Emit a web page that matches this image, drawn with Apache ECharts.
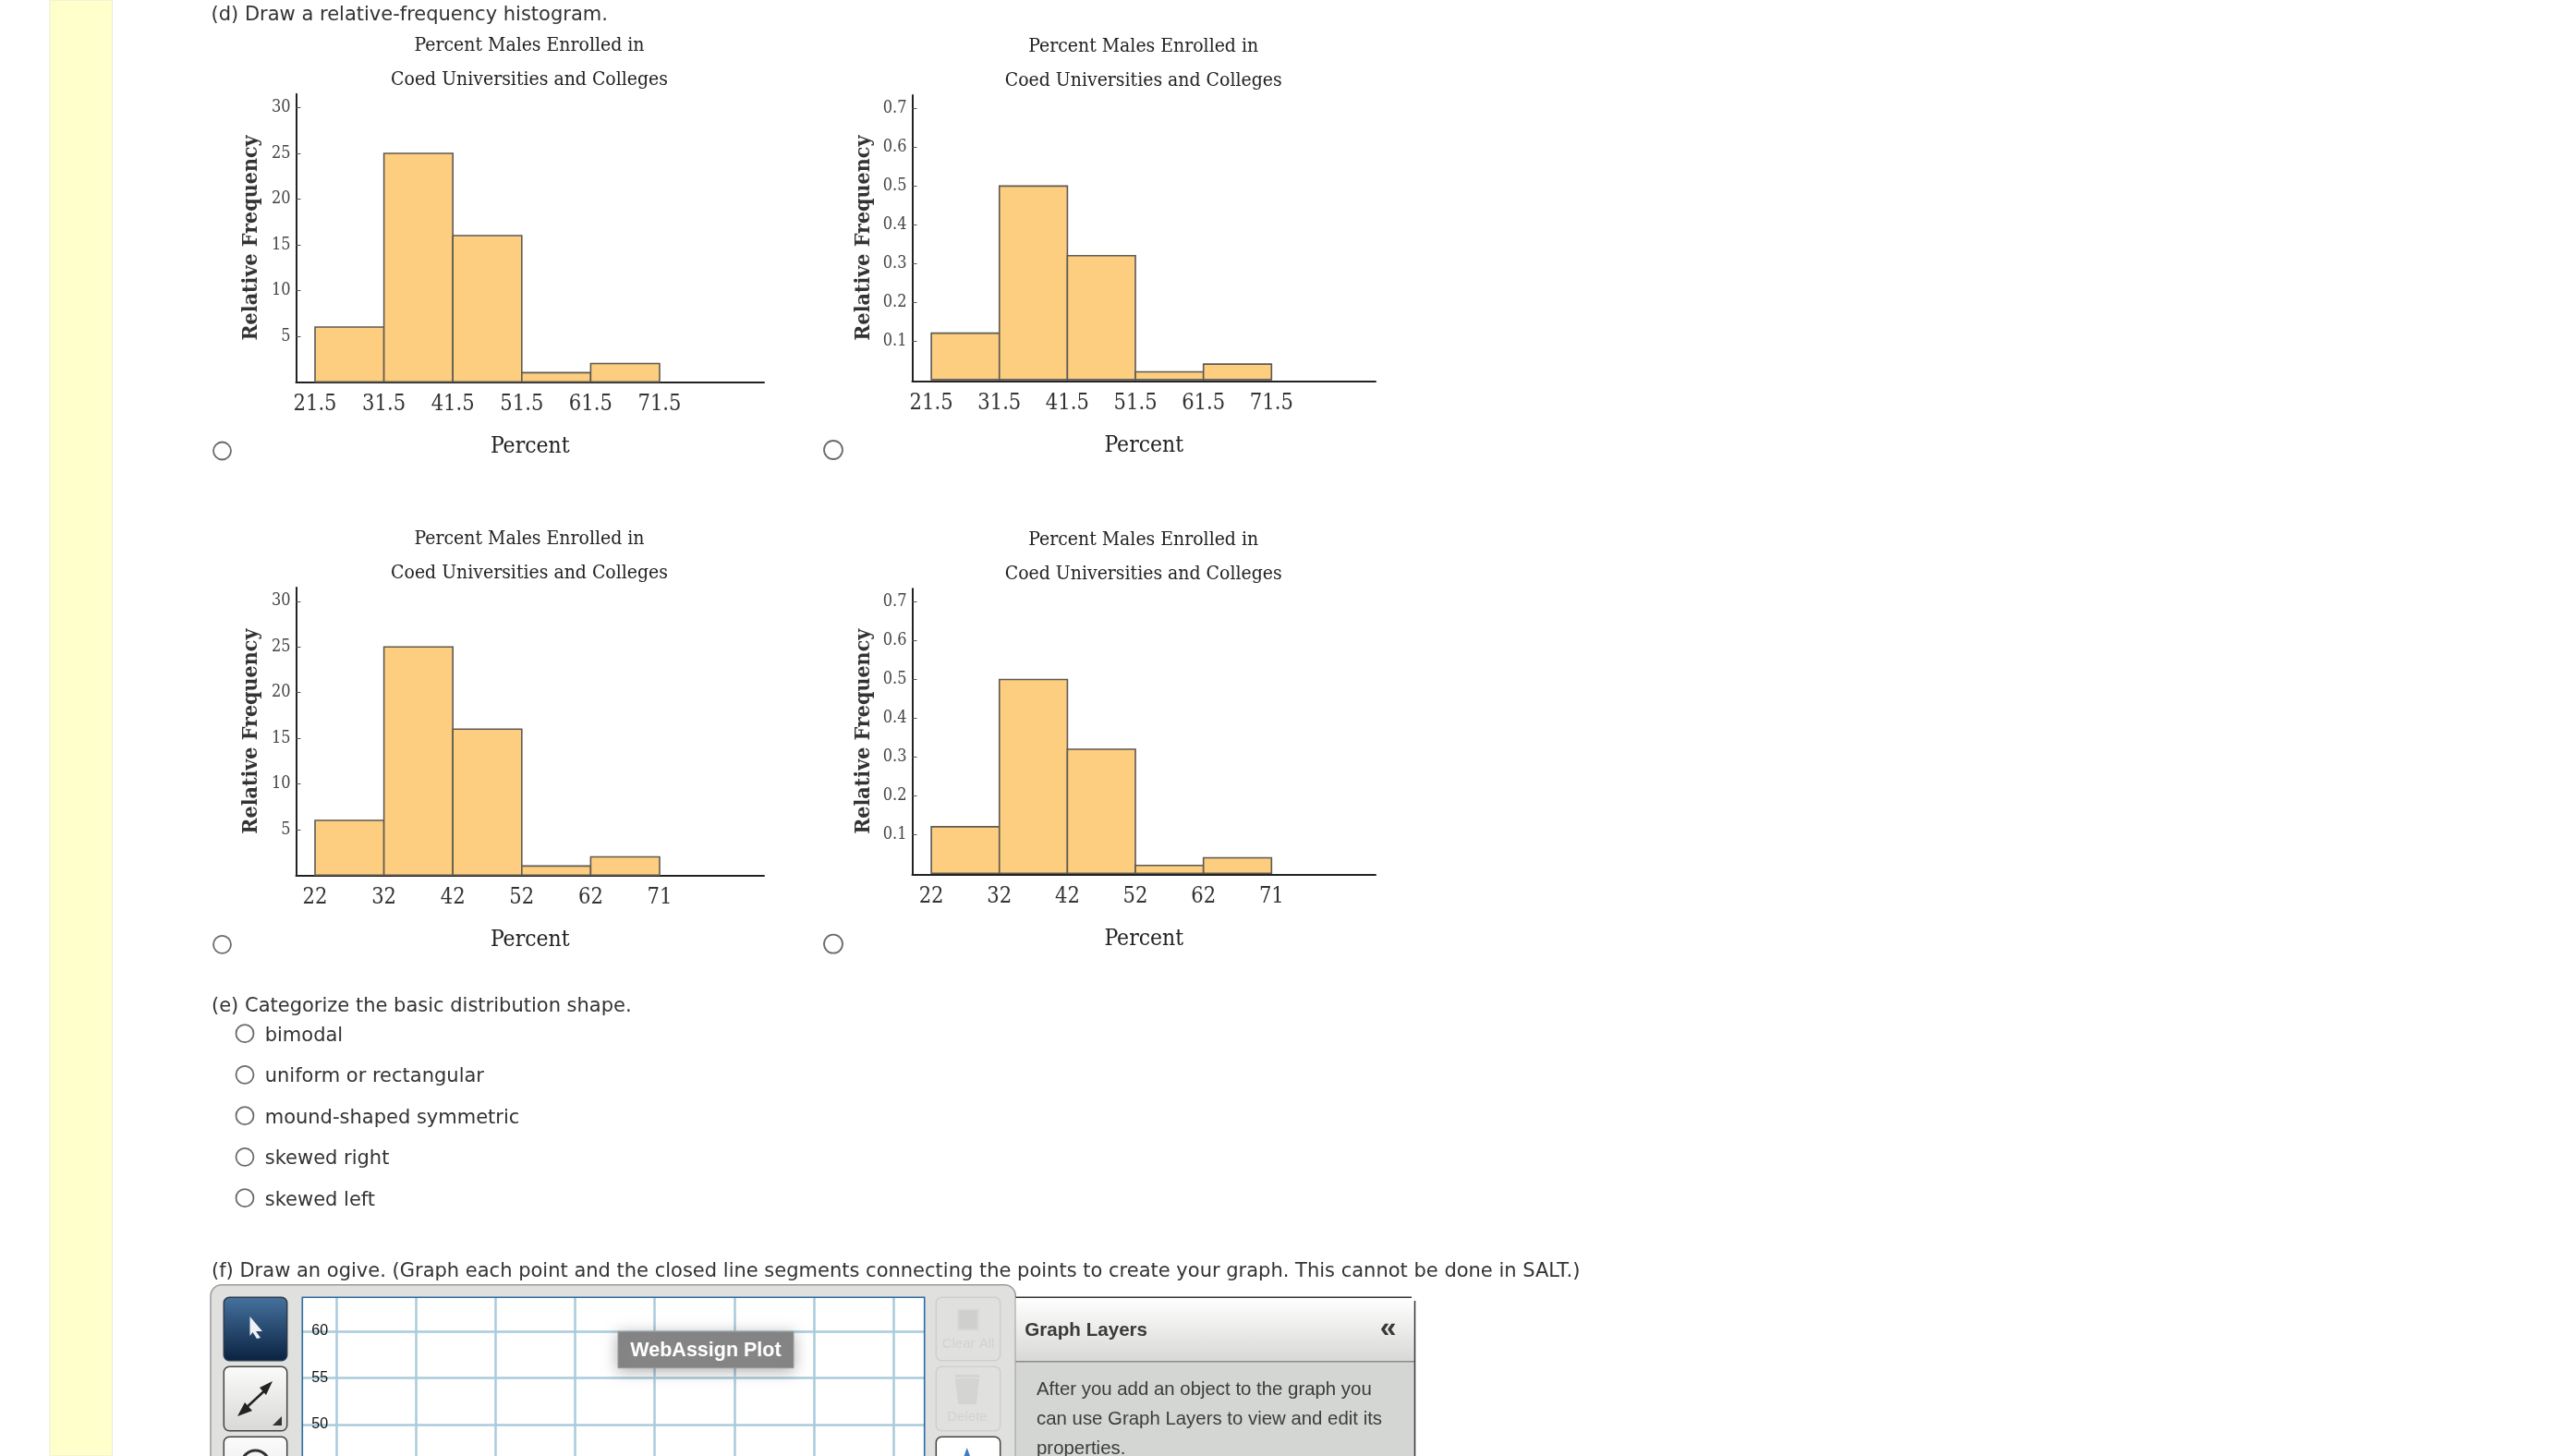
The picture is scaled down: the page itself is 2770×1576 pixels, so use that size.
<!DOCTYPE html>
<html>
<head>
<meta charset="utf-8">
<title>Percent Males Enrolled</title>
<style>
html, body { margin: 0; padding: 0; background: #fff; overflow: hidden; }
#chart { width: 2770px; height: 1576px; }
</style>
<script src="https://cdn.jsdelivr.net/npm/echarts@6/dist/echarts.min.js"></script>
</head>
<body>
<div id="chart"></div>
<script>
// values
var binEdges = [21.5, 31.5, 41.5, 51.5, 61.5, 71.5];
var counts = [6, 25, 16, 1, 2];
var relFreqs = [0.12, 0.5, 0.32, 0.02, 0.04];
var edgeLabelsExact = ['21.5', '31.5', '41.5', '51.5', '61.5', '71.5'];
var edgeLabelsRounded = ['22', '32', '42', '52', '62', '71'];
var countTicks = [5, 10, 15, 20, 25, 30];
var relTicks = [0.1, 0.2, 0.3, 0.4, 0.5, 0.6, 0.7];
var plotYTicks = [50, 55, 60];
var plotXTicks = [0, 5, 10, 15, 20, 25, 30, 35];
var titleText = 'Percent Males Enrolled in\nCoed Universities and Colleges';
var shapeChoices = ['bimodal', 'uniform or rectangular', 'mound-shaped symmetric', 'skewed right', 'skewed left'];

var SERIF = "'DejaVu Serif Condensed', 'DejaVu Serif', serif";
var SANS = "'DejaVu Sans', sans-serif";
var HELV = "'Liberation Sans', sans-serif";

// one entry per histogram: where its grid sits and which axis it uses
var panels = [
  { left: 320.5, right: 827, top: 101.7, bottom: 413.3, xMin: 18.75, xMax: 86.65, yMin: 0, yMax: 31.5, values: counts, ticks: countTicks, labels: edgeLabelsExact, titleX: 568, titleTop: 26, nameGap: 36.5 },
  { left: 987.5, right: 1489, top: 103, bottom: 412.3, xMin: 18.7, xMax: 86.8, yMin: -0.0035, yMax: 0.735, values: relFreqs, ticks: relTicks, labels: edgeLabelsExact, titleX: 1232.7, titleTop: 27, nameGap: 40.5 },
  { left: 320.5, right: 827, top: 636, bottom: 947.3, xMin: 18.75, xMax: 86.65, yMin: 0, yMax: 31.5, values: counts, ticks: countTicks, labels: edgeLabelsRounded, titleX: 568, titleTop: 560, nameGap: 36.5 },
  { left: 987.5, right: 1489, top: 637.3, bottom: 946.3, xMin: 18.7, xMax: 86.8, yMin: -0.0026, yMax: 0.734, values: relFreqs, ticks: relTicks, labels: edgeLabelsRounded, titleX: 1232.7, titleTop: 561, nameGap: 40.5 }
];

var myChart = echarts.init(document.getElementById('chart'));

function renderBin(params, api) {
  var a = api.coord([api.value(0), 0]);
  var b = api.coord([api.value(1), api.value(2)]);
  return {
    type: 'rect',
    shape: { x: a[0], y: b[1], width: b[0] - a[0], height: a[1] - b[1] },
    style: { fill: '#fdcd80', stroke: '#5d5a52', lineWidth: 1.6 }
  };
}

var titles = [], grids = [], xAxes = [], yAxes = [], series = [];

panels.forEach(function (p, i) {
  titles.push({
    text: titleText,
    left: p.titleX,
    top: p.titleTop,
    textAlign: 'center',
    textStyle: { fontFamily: SERIF, fontSize: 21, fontWeight: 'normal', color: '#222', lineHeight: 37 }
  });
  grids.push({ left: p.left, width: p.right - p.left, top: p.top, height: p.bottom - p.top });
  xAxes.push({
    type: 'value',
    gridIndex: i,
    min: p.xMin,
    max: p.xMax,
    name: 'Percent',
    nameLocation: 'middle',
    nameGap: 58,
    nameTextStyle: { fontFamily: SERIF, fontSize: 24.5, color: '#222' },
    axisLine: { onZero: false, lineStyle: { color: '#222', width: 2 } },
    axisTick: { show: false, customValues: binEdges },
    splitLine: { show: false },
    axisLabel: {
      customValues: binEdges,
      margin: 13,
      fontFamily: SERIF,
      fontSize: 23.5,
      color: '#333',
      formatter: function (v) { return p.labels[binEdges.indexOf(v)]; }
    }
  });
  yAxes.push({
    type: 'value',
    gridIndex: i,
    min: p.yMin,
    max: p.yMax,
    name: 'Relative Frequency',
    nameLocation: 'middle',
    nameGap: p.nameGap,
    nameTextStyle: { fontFamily: SERIF, fontSize: 23, color: '#333', fontWeight: 'bold' },
    axisLine: { onZero: false, lineStyle: { color: '#222', width: 2 } },
    axisTick: { show: true, inside: true, length: 5, customValues: p.ticks, lineStyle: { color: '#555' } },
    splitLine: { show: false },
    axisLabel: { customValues: p.ticks, margin: 6, padding: [3, 0, 0, 0], fontFamily: SERIF, fontSize: 18, color: '#444' }
  });
  series.push({
    type: 'custom',
    xAxisIndex: i,
    yAxisIndex: i,
    clip: false,
    silent: true,
    encode: { x: [0, 1], y: 2 },
    renderItem: renderBin,
    data: p.values.map(function (v, k) { return [binEdges[k], binEdges[k + 1], v]; })
  });
});

// WebAssign plot at the bottom of the page, only its top part is in view
grids.push({ left: 327.3, width: 673.4, top: 1404.3, height: 171.7, show: true, backgroundColor: '#fff', borderWidth: 0, z: 1 });
xAxes.push({
  type: 'value',
  gridIndex: 4,
  z: 2,
  min: -2.13,
  max: 36.94,
  axisLine: { show: false },
  axisTick: { show: false, customValues: plotXTicks },
  axisLabel: { show: false },
  splitLine: { show: true, lineStyle: { color: '#a9cbdb', width: 2.5 } }
});
yAxes.push({
  type: 'value',
  gridIndex: 4,
  z: 2,
  min: 46.6,
  max: 63.65,
  axisLine: { show: false },
  axisTick: { show: false, customValues: plotYTicks },
  axisLabel: { customValues: plotYTicks, inside: true, margin: 10, fontFamily: HELV, fontSize: 16, color: '#111', verticalAlign: 'middle' },
  splitLine: { show: true, lineStyle: { color: '#a9cbdb', width: 2.5 } }
});
series.push({ type: 'line', xAxisIndex: 4, yAxisIndex: 4, data: [], silent: true });

function txt(text, x, y, font, size, fill, extra) {
  var style = { text: text, x: x, y: y, fontFamily: font, fontSize: size, fill: fill, align: 'left', verticalAlign: 'middle' };
  for (var k in extra) style[k] = extra[k];
  return { type: 'text', z: 20, style: style };
}
function radio(x, y, r) {
  return { type: 'circle', z: 20, shape: { cx: x, cy: y, r: r }, style: { fill: '#fff', stroke: '#6b6b6b', lineWidth: 1.8 } };
}
function box(x, y, w, h, r, fill, stroke, z) {
  return { type: 'rect', z: z || 5, shape: { x: x, y: y, width: w, height: h, r: r }, style: { fill: fill, stroke: stroke, lineWidth: 1.5 } };
}
function vGrad(from, to) {
  return new echarts.graphic.LinearGradient(0, 0, 0, 1, [{ offset: 0, color: from }, { offset: 1, color: to }]);
}

var graphics = [
  // yellow margin
  { type: 'rect', z: 0, shape: { x: 54, y: 0, width: 67.5, height: 1576 }, style: { fill: '#ffffcc', stroke: '#ecead8', lineWidth: 1 } },
  txt('(d) Draw a relative-frequency histogram.', 228.5, 16.5, SANS, 21, '#333'),
  radio(240.5, 488, 9.5),
  radio(902, 487, 10),
  radio(240.5, 1022.3, 9.5),
  radio(902, 1021.7, 10),
  txt('(e) Categorize the basic distribution shape.', 229, 1089.5, SANS, 21, '#333'),
  txt('(f) Draw an ogive. (Graph each point and the closed line segments connecting the points to create your graph. This cannot be done in SALT.)', 229, 1376.5, SANS, 21, '#333'),

  // plot widget frame
  { type: 'rect', z: -1, shape: { x: 228, y: 1390.7, width: 871.3, height: 220, r: 12 }, style: { fill: '#e0e0de', stroke: '#9a9a9a', lineWidth: 1.5 } },
  { type: 'rect', z: 6, shape: { x: 327.3, y: 1404.3, width: 673.4, height: 190 }, style: { fill: 'none', stroke: '#2a6aa5', lineWidth: 1.6 } },

  // left tool buttons
  box(242.3, 1404.3, 68.4, 68.4, 6, vGrad('#46729f', '#0a2240'), '#2c3a4a'),
  { type: 'polygon', z: 6, shape: { points: [[270.5, 1425], [284, 1441], [277, 1441], [282, 1448], [278, 1449], [273.5, 1442], [270.5, 1446]] }, style: { fill: '#eef2f6' } },
  box(242.3, 1479.3, 68.4, 69.4, 6, vGrad('#fbfbfb', '#d8d8d6'), '#444'),
  { type: 'line', z: 6, shape: { x1: 263, y1: 1527, x2: 290, y2: 1502 }, style: { stroke: '#222', lineWidth: 2.5 } },
  { type: 'polygon', z: 6, shape: { points: [[295, 1495], [288, 1510], [281, 1502]] }, style: { fill: '#222' } },
  { type: 'polygon', z: 6, shape: { points: [[257, 1533], [273, 1527], [265, 1518]] }, style: { fill: '#222' } },
  { type: 'polygon', z: 6, shape: { points: [[305, 1533], [305, 1543], [295, 1543]] }, style: { fill: '#333' } },
  box(242.3, 1555.3, 68.4, 40, 6, vGrad('#fbfbfb', '#eee'), '#444'),
  { type: 'arc', z: 6, shape: { cx: 276.5, cy: 1585, r: 15, startAngle: Math.PI, endAngle: 2 * Math.PI }, style: { fill: 'none', stroke: '#333', lineWidth: 3 } },

  // right tool buttons, greyed out
  box(1013.3, 1404.3, 69.4, 68.4, 6, '#e0e0de', '#cfcfcd'),
  { type: 'rect', z: 6, shape: { x: 1037.5, y: 1418, width: 21, height: 21 }, style: { fill: '#cfcfcd', stroke: '#d6d6d4', lineWidth: 2 } },
  txt('Clear All', 1048, 1455, HELV, 15, '#d2d2d0', { align: 'center' }),
  box(1013.3, 1479.3, 69.4, 69.4, 6, '#e0e0de', '#cfcfcd'),
  { type: 'polygon', z: 6, shape: { points: [[1034, 1492], [1060, 1492], [1057, 1520], [1037, 1520]] }, style: { fill: '#d4d4d2' } },
  { type: 'rect', z: 6, shape: { x: 1034, y: 1488, width: 26, height: 3 }, style: { fill: '#d4d4d2' } },
  txt('Delete', 1047, 1534, HELV, 15, '#d2d2d0', { align: 'center' }),
  box(1013.3, 1555.3, 69.4, 40, 6, '#fff', '#444'),
  { type: 'polygon', z: 6, shape: { points: [[1046.7, 1567], [1050, 1576], [1043.5, 1576]] }, style: { fill: '#3f7fbf' } },

  // tooltip over the plot
  { type: 'rect', z: 10, shape: { x: 669, y: 1441.3, width: 190, height: 39.4 }, style: { fill: '#868686', stroke: '#9b9b9b', lineWidth: 1, shadowBlur: 16, shadowColor: 'rgba(0,0,0,0.3)', shadowOffsetY: 3 } },
  txt('WebAssign Plot', 764, 1462, HELV, 21.5, '#fff', { align: 'center', fontWeight: 'bold' }),

  // graph layers panel
  { type: 'rect', z: 5, shape: { x: 1099.5, y: 1404.3, width: 432, height: 69, r: [0, 5, 0, 0] }, style: { fill: vGrad('#ffffff', '#d8d8d6') } },
  { type: 'rect', z: 5, shape: { x: 1099.5, y: 1473.7, width: 432, height: 110 }, style: { fill: '#d4d6d3' } },
  { type: 'line', z: 6, shape: { x1: 1099.5, y1: 1473.7, x2: 1531.5, y2: 1473.7 }, style: { stroke: '#8a8a8a', lineWidth: 1.5 } },
  { type: 'line', z: 6, shape: { x1: 1099.5, y1: 1404.3, x2: 1528, y2: 1404.3 }, style: { stroke: '#333', lineWidth: 1.5 } },
  { type: 'line', z: 6, shape: { x1: 1531.5, y1: 1408, x2: 1531.5, y2: 1576 }, style: { stroke: '#333', lineWidth: 1.5 } },
  txt('Graph Layers', 1109.3, 1440.8, HELV, 20.6, '#3a3a3a', { fontWeight: 'bold' }),
  txt('\u00ab', 1502.7, 1438, HELV, 32, '#3a3a3a', { align: 'center', fontWeight: 'bold' }),
  txt('After you add an object to the graph you', 1122, 1504.2, HELV, 20.4, '#3c3c3c'),
  txt('can use Graph Layers to view and edit its', 1122, 1536.5, HELV, 20.4, '#3c3c3c'),
  txt('properties.', 1122, 1568.5, HELV, 20.4, '#3c3c3c')
];

var radioYs = [1118.7, 1163.3, 1207.7, 1252.3, 1296.7];
shapeChoices.forEach(function (label, i) {
  graphics.push(radio(265, radioYs[i], 9.5));
  graphics.push(txt(label, 286.7, radioYs[i] + 2.5, SANS, 21, '#333'));
});

var option = {
  animation: false,
  backgroundColor: '#fff',
  title: titles,
  grid: grids,
  xAxis: xAxes,
  yAxis: yAxes,
  series: series,
  graphic: { elements: graphics }
};
myChart.setOption(option);
</script>
</body>
</html>
